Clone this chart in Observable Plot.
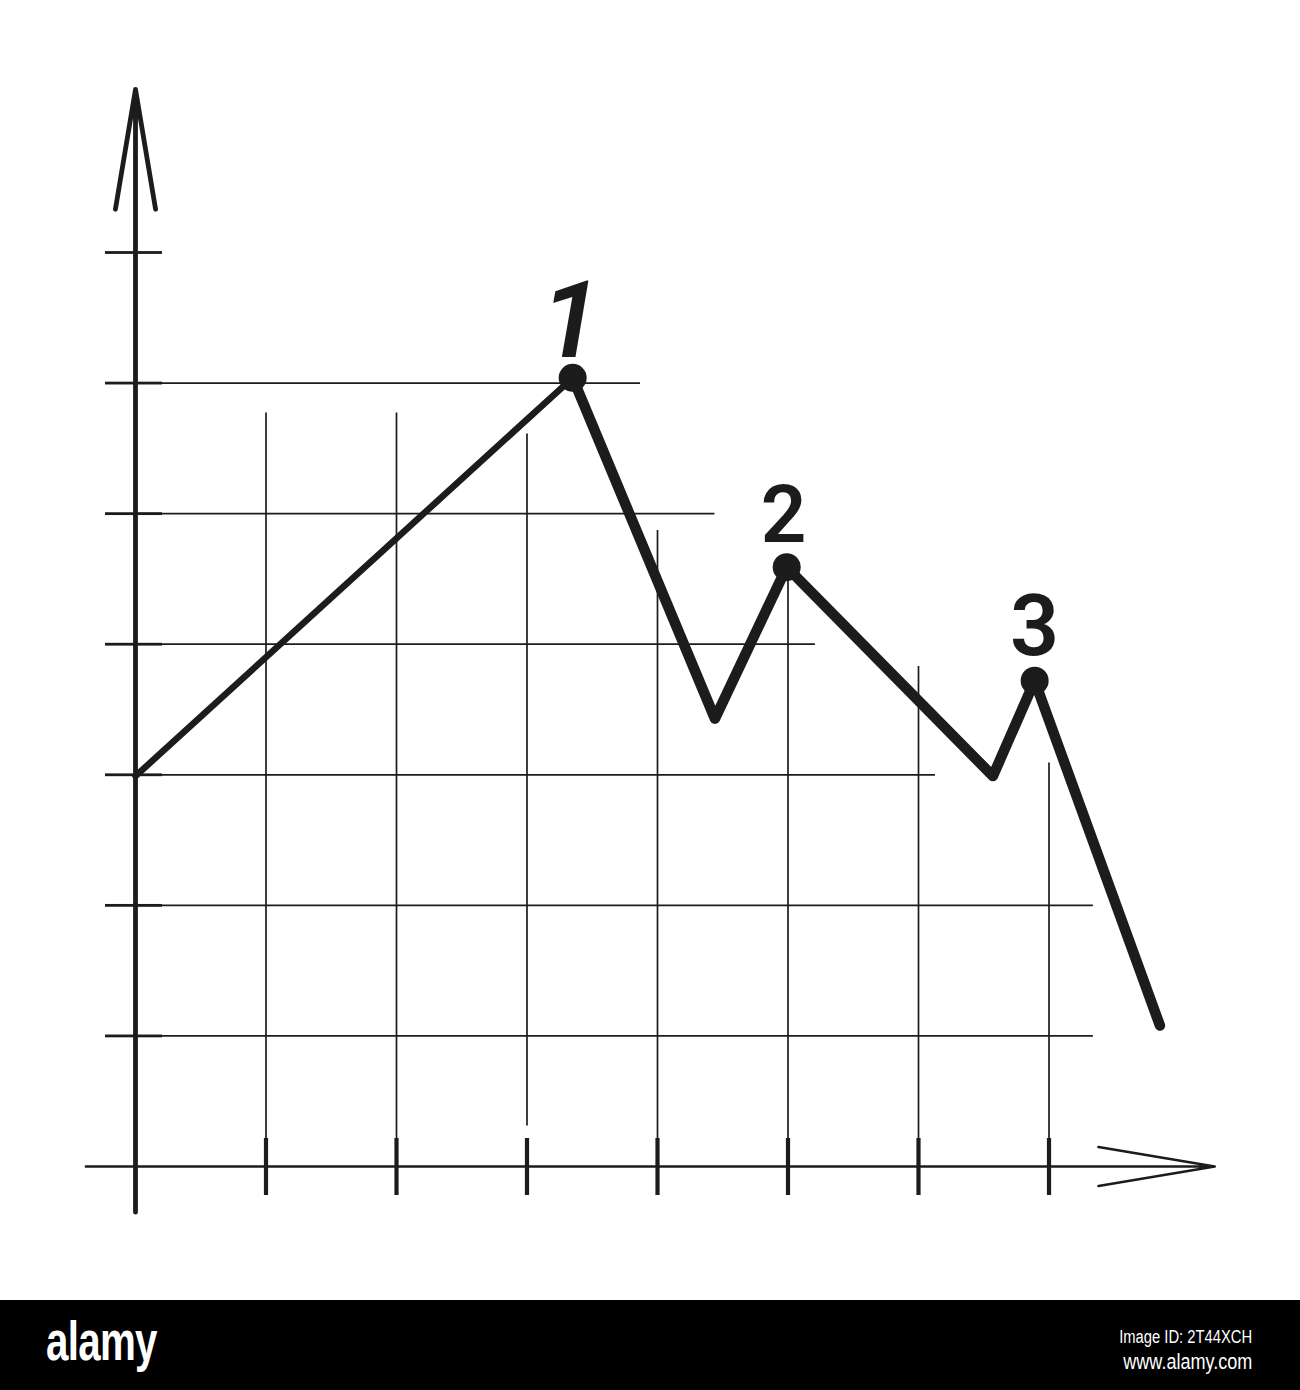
<!DOCTYPE html>
<html>
<head>
<meta charset="utf-8">
<script src="https://cdn.jsdelivr.net/npm/d3@7"></script>
<script src="https://cdn.jsdelivr.net/npm/@observablehq/plot@0.6"></script>
<style>
  html, body { margin: 0; padding: 0; background: #fff; }
  #chart { width: 1300px; height: 1300px; }
  #banner { width: 1300px; height: 90px; background: #000; position: relative; color: #fff; overflow: hidden; }
  #logo { position: absolute; left: 46px; top: 8px; font-family: "Liberation Sans", sans-serif; font-weight: bold; font-size: 56px; letter-spacing: -1px; transform: scaleX(0.72); transform-origin: left top; }
  #imgid { position: absolute; right: 48px; top: 27px; font-family: "Liberation Sans", sans-serif; font-size: 18px; text-align: right; transform: scaleX(0.82); transform-origin: right top; white-space: nowrap; }
  #site { position: absolute; right: 48px; top: 49px; font-family: "Liberation Sans", sans-serif; font-size: 22px; text-align: right; transform: scaleX(0.82); transform-origin: right top; white-space: nowrap; }
</style>
</head>
<body>
<div id="chart"></div>
<div id="banner">
  <div id="logo">alamy</div>
  <div id="imgid">Image ID: 2T44XCH</div>
  <div id="site">www.alamy.com</div>
</div>
<script>
// ---- data ----
const pathX = [0, 3.35, 4.44, 4.99, 6.57, 6.89, 7.85];
const pathY = [2.99, 6.04, 3.43, 4.59, 2.99, 3.72, 1.08];
const peakIndex = [1, 3, 5];
const peakLabels = ["1", "2", "3"];
const xTicks = [1, 2, 3, 4, 5, 6, 7];
const yTicks = [1, 2, 3, 4, 5, 6, 7];
const hGridY = [6, 5, 4, 3, 2, 1];
const hGridEnd = [3.87, 4.44, 5.21, 6.13, 7.34, 7.34];
const vGridX = [1, 2, 3, 4, 5, 6, 7];
const vGridTop = [5.77, 5.77, 5.61, 4.87, 4.49, 3.83, 3.09];
const vGridBottom = [0, 0, 0.31, 0, 0, 0, 0];

// ---- layout constants ----
const INK = "#1c1c1c";
const xAxisExtent = [-0.38, 8.27];
const yAxisExtent = [-0.35, 8.25];

const points = pathX.map((x, i) => ({x, y: pathY[i]}));
const firstSeg = points.slice(0, 2);
const restSeg = points.slice(1);
const peaks = peakIndex.map((i, k) => ({x: pathX[i], y: pathY[i], label: peakLabels[k]}));
const hGrid = hGridY.map((y, i) => ({y, xEnd: hGridEnd[i]}));
const vGrid = vGridX.map((x, i) => ({x, top: vGridTop[i], bottom: vGridBottom[i]}));

const chart = Plot.plot({
  width: 1300,
  height: 1300,
  marginLeft: 135,
  marginRight: 121,
  marginTop: 252,
  marginBottom: 134,
  x: {domain: [0, 8], range: [135, 1179]},
  y: {domain: [0, 7], range: [1166, 252]},
  style: {background: "#fff", overflow: "visible"},
  marks: [
    // grid
    Plot.ruleY(hGrid, {y: "y", x1: 0, x2: "xEnd", stroke: INK, strokeWidth: 1.7}),
    Plot.ruleX(vGrid, {x: "x", y1: "bottom", y2: "top", stroke: INK, strokeWidth: 1.7}),
    // axes with arrow heads
    Plot.arrow([{x1: xAxisExtent[0], x2: xAxisExtent[1], y1: 0, y2: 0}],
      {x1: "x1", x2: "x2", y1: "y1", y2: "y2", stroke: INK, strokeWidth: 2.6, headAngle: 19, headLength: 68}),
    Plot.arrow([{x1: 0, x2: 0, y1: yAxisExtent[0], y2: yAxisExtent[1]}],
      {x1: "x1", x2: "x2", y1: "y1", y2: "y2", stroke: INK, strokeWidth: 4.8, headAngle: 19, headLength: 38}),
    // ticks crossing the axes
    Plot.axisY(yTicks, {anchor: "left", tickSize: 30, tickFormat: () => "", stroke: INK, strokeWidth: 2.8, label: null}),
    Plot.axisY(yTicks, {anchor: "left", tickSize: -27, tickFormat: () => "", stroke: INK, strokeWidth: 2.8, label: null}),
    Plot.axisX(xTicks, {anchor: "bottom", tickSize: 29, tickFormat: () => "", stroke: INK, strokeWidth: 4.2, label: null}),
    Plot.axisX(xTicks, {anchor: "bottom", tickSize: -28, tickFormat: () => "", stroke: INK, strokeWidth: 4.2, label: null}),
    // series
    Plot.line(firstSeg, {x: "x", y: "y", stroke: INK, strokeWidth: 6.5, strokeLinecap: "round", strokeLinejoin: "round"}),
    Plot.line(restSeg, {x: "x", y: "y", stroke: INK, strokeWidth: 10.5, strokeLinecap: "round", strokeLinejoin: "round"}),
    Plot.dot(peaks, {x: "x", y: "y", r: 14, fill: INK, stroke: null}),
    // peak labels
    Plot.text(peaks.filter(d => d.label === "1"), {x: "x", y: "y", text: "label", lineAnchor: "bottom", dy: -21, dx: -2,
      fontSize: 108, fontStyle: "italic", fontWeight: 600, fontFamily: "Roboto, sans-serif", fill: INK}),
    Plot.text(peaks.filter(d => d.label === "2"), {x: "x", y: "y", text: "label", lineAnchor: "bottom", dy: -25, dx: -3,
      fontSize: 80, fontWeight: 600, fontFamily: "Roboto, sans-serif", fill: INK}),
    Plot.text(peaks.filter(d => d.label === "3"), {x: "x", y: "y", text: "label", lineAnchor: "bottom", dy: -26, dx: 0,
      fontSize: 86, fontWeight: 600, fontFamily: "Roboto, sans-serif", fill: INK})
  ]
});
document.getElementById("chart").appendChild(chart);
</script>
</body>
</html>
